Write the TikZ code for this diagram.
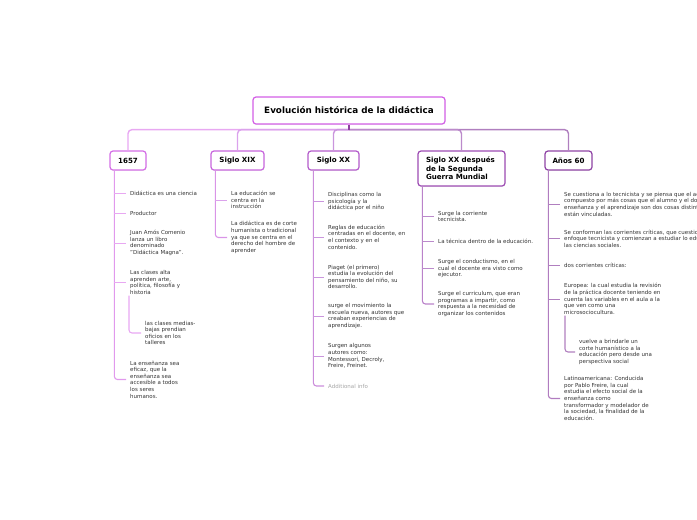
\documentclass[tikz,border=0pt]{standalone}
\usepackage{fontspec}
\setmainfont{DejaVu Sans}
\usetikzlibrary{calc,shadows}
\definecolor{rootc}{HTML}{D35FE6}
\definecolor{stemc}{HTML}{8E3FA0}
\definecolor{boxa}{HTML}{D46EE6}
\definecolor{boxb}{HTML}{C866DD}
\definecolor{boxc}{HTML}{B45CCB}
\definecolor{boxd}{HTML}{9D4CB3}
\definecolor{boxe}{HTML}{8F44A5}
\definecolor{linka}{HTML}{E8A8F2}
\definecolor{linkb}{HTML}{DBA2EC}
\definecolor{linkc}{HTML}{CA95DD}
\definecolor{linkd}{HTML}{BB8ACB}
\definecolor{linke}{HTML}{B07FBF}
\tikzset{
	topic/.style={draw=#1, line width=1.2pt, rounded corners=3pt, fill=white,
		font=\bfseries\fontsize{7.1}{8.6}\selectfont, minimum height=19pt, inner xsep=4pt,
		drop shadow={opacity=0.12, shadow xshift=0.4pt, shadow yshift=-0.8pt}},
	item/.style={anchor=west, align=left, inner xsep=4pt, inner ysep=1pt,
		font=\fontsize{5.5}{6.6}\selectfont, text=black!80},
	link/.style={draw=#1, line width=1.4pt, rounded corners=4pt},
	branch/.style={draw=#1, line width=1.1pt, rounded corners=3pt},
	tick/.style={draw=#1, line width=0.9pt},
}

\begin{document}
\begin{tikzpicture}[x=1pt, y=-1pt]
			%%%%% START %%%%%
			\useasboundingbox (0,0) rectangle (697,520);
			\clip (0,0) rectangle (697,520);
			
			% root and main topics
			\node[topic=rootc, minimum width=192pt, minimum height=27pt, font=\bfseries\fontsize{8.8}{10}\selectfont] (root) at (349,110.5) {Evolución histórica de la didáctica};
			
			\node[topic=boxa, minimum width=36pt] (c1) at (128,160.5) {1657};
			\node[topic=boxb, minimum width=53pt] (c2) at (237.5,160.5) {Siglo XIX};
			\node[topic=boxc, minimum width=51pt] (c3) at (333.5,160.5) {Siglo XX};
			\node[topic=boxd, text width=71pt, inner xsep=8pt, align=left, minimum height=35pt] (c4) at (461.5,168.5) {Siglo XX después\\de la Segunda\\Guerra Mundial};
			\node[topic=boxe, minimum width=47pt] (c5) at (568.5,160.5) {Años 60};
			
			\coordinate (hub) at ($(root.south)+(0,5)$);
			\draw[link=linka] (hub) -| (c1.north);
			\draw[link=linkb] (hub) -| (c2.north);
			\draw[link=linkc] (hub) -| (c3.north);
			\draw[link=linke] (hub) -| (c5.north);
			\draw[link=linkd] (hub) -| (c4.north);
			\draw[stemc, line width=1.4pt] (root.south) -- (hub);
			
			% 1657
			\node[item] (a11) at (126,193) {Didáctica es una ciencia};
			\node[item] (a12) at (126,213) {Productor};
			\node[item] (a13) at (126,243) {Juan Amós Comenio\\lanza un libro\\denominado\\"Didáctica Magna".};
			\node[item] (a14) at (126,282.5) {Las clases alta\\aprenden arte,\\política, filosofía y\\historia};
			\node[item] (a15) at (141,333) {las clases medias-\\bajas prendian\\oficios en los\\talleres};
			\node[item] (a16) at (126,379.5) {La enseñanza sea\\eficaz, que la\\enseñanza sea\\accesible a todos\\los seres\\humanos.};
			
			\coordinate (b1) at ($(c1.south west)+(5,0)$);
			\draw[branch=boxa!70] (b1) |- (a16.west);
			\foreach \n in {a11,a12,a13,a14}
				\draw[tick=linka] (b1 |- \n.west) -- (\n.west);
			\coordinate (b14) at ($(a14.south west)+(3,0)$);
			\draw[branch=linka] (b14) |- (a15.west);
			
			% Siglo XIX
			\node[item] (a21) at (227,200) {La educación se\\centra en la\\instrucción};
			\node[item] (a22) at (227,237.5) {La didáctica es de corte\\humanista o tradicional\\ya que se centra en el\\derecho del hombre de\\aprender};
			
			\coordinate (b2) at ($(c2.south west)+(5,0)$);
			\draw[branch=boxb!70] (b2) |- (a22.west);
			\draw[tick=linkb] (b2 |- a21.west) -- (a21.west);
			
			% Siglo XX
			\node[item] (a31) at (324,201.5) {Disciplinas como la\\psicología y la\\didáctica por el niño};
			\node[item] (a32) at (324,237) {Reglas de educación\\centradas en el docente, en\\el contexto y en el\\contenido.};
			\node[item] (a33) at (324,277) {Piaget (el primero)\\estudia la evolución del\\pensamiento del niño, su\\desarrollo.};
			\node[item] (a34) at (324,316) {surge el movimiento la\\escuela nueva, autores que\\creaban experiencias de\\aprendizaje.};
			\node[item] (a35) at (324,356) {Surgen algunos\\autores como:\\Montessori, Decroly,\\Freire, Freinet.};
			\node[item, text=black!35] (a36) at (324,386) {Additional info};
			
			\coordinate (b3) at ($(c3.south west)+(6,0)$);
			\draw[branch=boxc!70] (b3) |- (a36.west);
			\foreach \n in {a31,a32,a33,a34,a35}
				\draw[tick=linkc] (b3 |- \n.west) -- (\n.west);
			
			% Siglo XX despues
			\node[item] (a41) at (434,216.5) {Surge la corriente\\tecnicista.};
			\node[item] (a42) at (434,241) {La técnica dentro de la educación.};
			\node[item] (a43) at (434,268.5) {Surge el conductismo, en el\\cual el docente era visto como\\ejecutor.};
			\node[item] (a44) at (434,304) {Surge el curriculum, que eran\\programas a impartir, como\\respuesta a la necesidad de\\organizar los contenidos};
			
			\coordinate (b4) at ($(c4.south west)+(5,0)$);
			\draw[branch=boxd!70] (b4) |- (a44.west);
			\foreach \n in {a41,a42,a43}
				\draw[tick=linkd] (b4 |- \n.west) -- (\n.west);
			
			% Anos 60
			\node[item] (a51) at (560,204) {Se cuestiona a lo tecnicista y se piensa que el acto educativo está\\compuesto por más cosas que el alumno y el docente, y que la\\enseñanza y el aprendizaje son dos cosas distintas pero que\\están vinculadas.};
			\node[item] (a52) at (560,238.5) {Se conforman las corrientes críticas, que cuestionan el\\enfoque tecnicista y comienzan a estudiar lo educativo desde\\las ciencias sociales.};
			\node[item] (a53) at (560,265) {dos corrientes críticas:};
			\node[item] (a54) at (560,299) {Europea: la cual estudia la revisión\\de la práctica docente teniendo en\\cuenta las variables en el aula a la\\que ven como una\\microsociocultura.};
			\node[item] (a55) at (575,352) {vuelve a brindarle un\\corte humanístico a la\\educación pero desde una\\perspectiva social};
			\node[item] (a56) at (560,398.5) {Latinoamericana: Conducida\\por Pablo Freire, la cual\\estudia el efecto social de la\\enseñanza como\\transformador y modelador de\\la sociedad, la finalidad de la\\educación.};
			
			\coordinate (b5) at ($(c5.south west)+(4,0)$);
			\draw[branch=boxe!70] (b5) |- (a56.west);
			\foreach \n in {a51,a52,a53,a54}
				\draw[tick=linke] (b5 |- \n.west) -- (\n.west);
			\coordinate (b54) at ($(a54.south west)+(5,0)$);
			\draw[branch=linke] (b54) |- (a55.west);
			
			%%%%% END %%%%%
\end{tikzpicture}
\end{document}
